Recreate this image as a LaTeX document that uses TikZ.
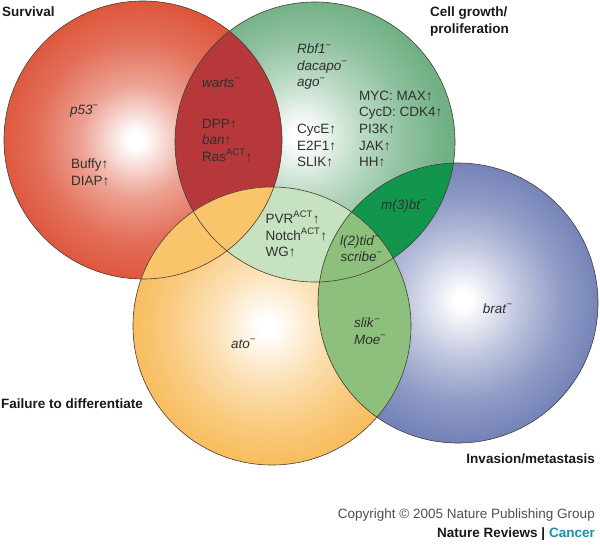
\documentclass[tikz,border=0pt]{standalone}
\usepackage{fontspec}
\setmainfont{Liberation Sans}
\definecolor{redE}{RGB}{222,86,60}
\definecolor{greenE}{RGB}{112,176,132}
\definecolor{yellowE}{RGB}{248,188,92}
\definecolor{blueE}{RGB}{116,130,184}
\definecolor{darkredF}{RGB}{183,56,58}
\definecolor{orangeF}{RGB}{250,196,106}
\definecolor{lightgreenF}{RGB}{198,226,192}
\definecolor{midgreenF}{RGB}{140,192,124}
\definecolor{darkgreenF}{RGB}{18,150,78}
\definecolor{linec}{RGB}{70,62,52}
\definecolor{labc}{RGB}{48,48,48}
\definecolor{ttlc}{RGB}{25,25,25}
\definecolor{grayc}{RGB}{80,80,80}
\definecolor{tealc}{RGB}{24,146,166}
\pgfdeclareradialshading{redball}{\pgfpoint{-1.4bp}{0bp}}{color(0bp)=(white); color(1.5bp)=(white); color(10bp)=(redE!55!white); color(18bp)=(redE!85!white); color(25bp)=(redE); color(50bp)=(redE)}
\pgfdeclareradialshading{greenball}{\pgfpoint{-2.7bp}{1.2bp}}{color(0bp)=(white); color(1.5bp)=(white); color(10bp)=(greenE!45!white); color(18bp)=(greenE!78!white); color(25bp)=(greenE); color(50bp)=(greenE)}
\pgfdeclareradialshading{yellowball}{\pgfpoint{-0.9bp}{0bp}}{color(0bp)=(white); color(1.5bp)=(white); color(10bp)=(yellowE!45!white); color(18bp)=(yellowE!78!white); color(25bp)=(yellowE); color(50bp)=(yellowE)}
\pgfdeclareradialshading{blueball}{\pgfpoint{0.9bp}{0.5bp}}{color(0bp)=(white); color(1.5bp)=(white); color(10bp)=(blueE!45!white); color(18bp)=(blueE!80!white); color(25bp)=(blueE); color(50bp)=(blueE)}
\newcommand\sminus{\textsuperscript{−}}
\newcommand\act{\textsuperscript{ACT}}
\tikzset{
  lab/.style={anchor=base west, inner sep=0pt, text=labc, font=\fontsize{13.5}{16}\selectfont},
  ttl/.style={anchor=base west, inner sep=0pt, text=ttlc, font=\fontsize{13.5}{16}\selectfont\bfseries},
  outline/.style={draw=linec, line width=0.6pt},
}
\begin{document}
\begin{tikzpicture}[x=1pt,y=-1pt]
\useasboundingbox (0,0) rectangle (600,549);
\fill[white] (0,0) rectangle (600,549);
\coordinate (cR) at (143,140);
\coordinate (cG) at (315,142);
\coordinate (cY) at (272,326);
\coordinate (cB) at (458,303);
\def\rR{139pt}\def\rG{140pt}\def\rY{139pt}\def\rB{140pt}
% shaded circles
\shade[shading=redball] (cR) circle[radius=\rR];
\shade[shading=greenball] (cG) circle[radius=\rG];
\shade[shading=yellowball] (cY) circle[radius=\rY];
\shade[shading=blueball] (cB) circle[radius=\rB];
% intersections
\begin{scope}\clip (cR) circle[radius=\rR]; \fill[darkredF] (cG) circle[radius=\rG]; \end{scope}
\begin{scope}\clip (cG) circle[radius=\rG]; \fill[lightgreenF] (cY) circle[radius=\rY]; \end{scope}
\begin{scope}\clip (cR) circle[radius=\rR]; \fill[orangeF] (cY) circle[radius=\rY]; \end{scope}
\begin{scope}\clip (cG) circle[radius=\rG]; \fill[darkgreenF] (cB) circle[radius=\rB]; \end{scope}
\begin{scope}\clip (cY) circle[radius=\rY]; \fill[midgreenF] (cB) circle[radius=\rB]; \end{scope}
% outlines
\draw[outline] (cR) circle[radius=\rR];
\draw[outline] (cG) circle[radius=\rG];
\draw[outline] (cY) circle[radius=\rY];
\draw[outline] (cB) circle[radius=\rB];
% titles
\node[ttl] (tS) at (2,16.7) {Survival};
\node[ttl] (tC1) at (430,16.7) {Cell growth/};
\node[ttl] (tC2) at (430,33.3) {proliferation};
\node[ttl] (tF) at (1,408) {Failure to differentiate};
\node[ttl, anchor=base east] (tI) at (595,463) {Invasion/metastasis};
\node[lab, anchor=base east, text=grayc] (cp) at (595,518) {Copyright © 2005 Nature Publishing Group};
\node[ttl, anchor=base east] (nr) at (595,537) {Nature Reviews | \textcolor{tealc}{Cancer}};
% survival
\node[lab] (p53) at (70,114) {\textit{p53}\sminus};
\node[lab] (buffy) at (71,168) {Buffy↑};
\node[lab] (diap) at (71,185) {DIAP↑};
% survival & growth
\node[lab] (warts) at (202,87) {\textit{warts}\sminus};
\node[lab] (dpp) at (202,128) {DPP↑};
\node[lab] (ban) at (202,144.5) {\textit{ban}↑};
\node[lab] (ras) at (202,161) {Ras\act↑};
% growth
\node[lab] (rbf) at (297,53.3) {\textit{Rbf1}\sminus};
\node[lab] (dac) at (297,70.2) {\textit{dacapo}\sminus};
\node[lab] (ago) at (297,86.5) {\textit{ago}\sminus};
\node[lab] (cyce) at (297,133.3) {CycE↑};
\node[lab] (e2f) at (297,150) {E2F1↑};
\node[lab] (slikup) at (297,166.5) {SLIK↑};
\node[lab] (myc) at (359,100) {MYC: MAX↑};
\node[lab] (cycd) at (359,116.7) {CycD: CDK4↑};
\node[lab] (pi3k) at (359,133.3) {PI3K↑};
\node[lab] (jak) at (359,150) {JAK↑};
\node[lab] (hh) at (359,166.5) {HH↑};
% growth & failure
\node[lab] (pvr) at (265.5,223) {PVR\act↑};
\node[lab] (notch) at (265.5,240) {Notch\act↑};
\node[lab] (wg) at (265.5,256.7) {WG↑};
% growth & invasion
\node[lab] (m3bt) at (381,209) {\textit{m(3)bt}\sminus};
\node[lab] (l2tid) at (340,245) {\textit{l(2)tid}\sminus};
\node[lab] (scribe) at (340.5,261) {\textit{scribe}\sminus};
% failure & invasion
\node[lab] (slik) at (354,327.7) {\textit{slik}\sminus};
\node[lab] (moe) at (354,344) {\textit{Moe}\sminus};
\node[lab] (ato) at (231,348) {\textit{ato}\sminus};
\node[lab] (brat) at (482.7,313) {\textit{brat}\sminus};
\end{tikzpicture}
\end{document}
